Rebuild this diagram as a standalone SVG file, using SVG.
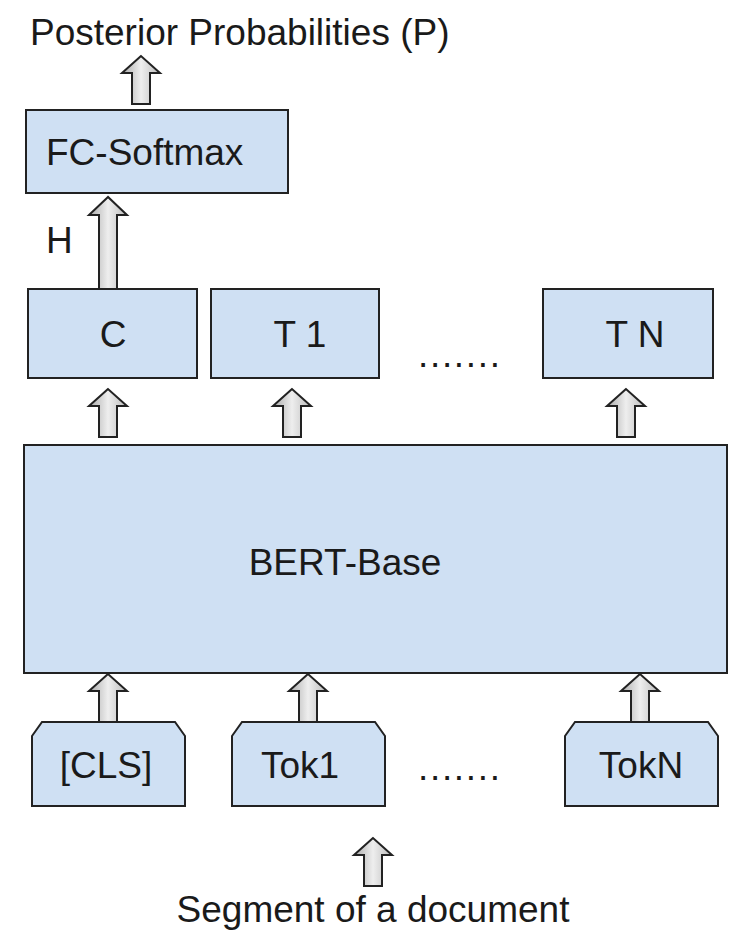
<svg xmlns="http://www.w3.org/2000/svg" width="744" height="944" viewBox="0 0 744 944">
<style>
.box{fill:#cfe0f3;stroke:#222;stroke-width:2}
.t{font-family:"Liberation Sans",Arial,sans-serif;fill:#1a1a1a;font-size:37px}
.ar{fill:url(#g);stroke:#222;stroke-width:2}
</style>
<defs>
<linearGradient id="g" x1="0" y1="0" x2="1" y2="0"><stop offset="0" stop-color="#aaa"/><stop offset="0.5" stop-color="#eee"/><stop offset="1" stop-color="#bbb"/></linearGradient>
<path id="a" d="M0,0 L-19,17 L-9,17 L-9,48 L9,48 L9,17 L19,17 Z"/>
</defs>
<rect width="744" height="944" fill="#fff"/>
<text class="t" x="30" y="45">Posterior Probabilities (P)</text>
<g id="connectors">
<use href="#a" class="ar" x="141" y="56"/>
<path class="ar" d="M108,197 L89,215 L99,215 L99,289 L117,289 L117,215 L127,215 Z"/>
<use href="#a" class="ar" x="108" y="389"/>
<use href="#a" class="ar" x="292" y="389"/>
<use href="#a" class="ar" x="626" y="389"/>
<use href="#a" class="ar" x="108" y="674"/>
<use href="#a" class="ar" x="308" y="674"/>
<use href="#a" class="ar" x="640" y="674"/>
<use href="#a" class="ar" x="373" y="838"/>
</g>
<g id="fc"><rect class="box" x="26" y="110" width="262" height="83"/><text class="t" x="46" y="165">FC-Softmax</text></g>
<text class="t" x="46" y="253">H</text>
<g id="c"><rect class="box" x="28" y="289" width="169" height="89"/><text class="t" x="113" y="347" text-anchor="middle">C</text></g>
<g id="t1"><rect class="box" x="211" y="289" width="168" height="89"/><text class="t" x="300" y="347" text-anchor="middle">T 1</text></g>
<text class="t" x="418" y="367" textLength="82">.......</text>
<g id="tn"><rect class="box" x="543" y="289" width="170" height="89"/><text class="t" x="635" y="347" text-anchor="middle">T N</text></g>
<g id="bert"><rect class="box" x="24" y="445" width="703" height="228"/><text class="t" x="345" y="575" text-anchor="middle">BERT-Base</text></g>
<g id="cls"><path class="box" d="M42,722 L175,722 L185,736 L185,806 L32,806 L32,736 Z"/><text class="t" x="106" y="778" text-anchor="middle">[CLS]</text></g>
<g id="tok1"><path class="box" d="M242,722 L375,722 L385,736 L385,806 L232,806 L232,736 Z"/><text class="t" x="300" y="778" text-anchor="middle">Tok1</text></g>
<text class="t" x="418" y="780" textLength="82">.......</text>
<g id="tokn"><path class="box" d="M575,722 L708,722 L718,736 L718,806 L565,806 L565,736 Z"/><text class="t" x="641" y="778" text-anchor="middle">TokN</text></g>
<text class="t" x="373" y="922" text-anchor="middle">Segment of a document</text>
</svg>
